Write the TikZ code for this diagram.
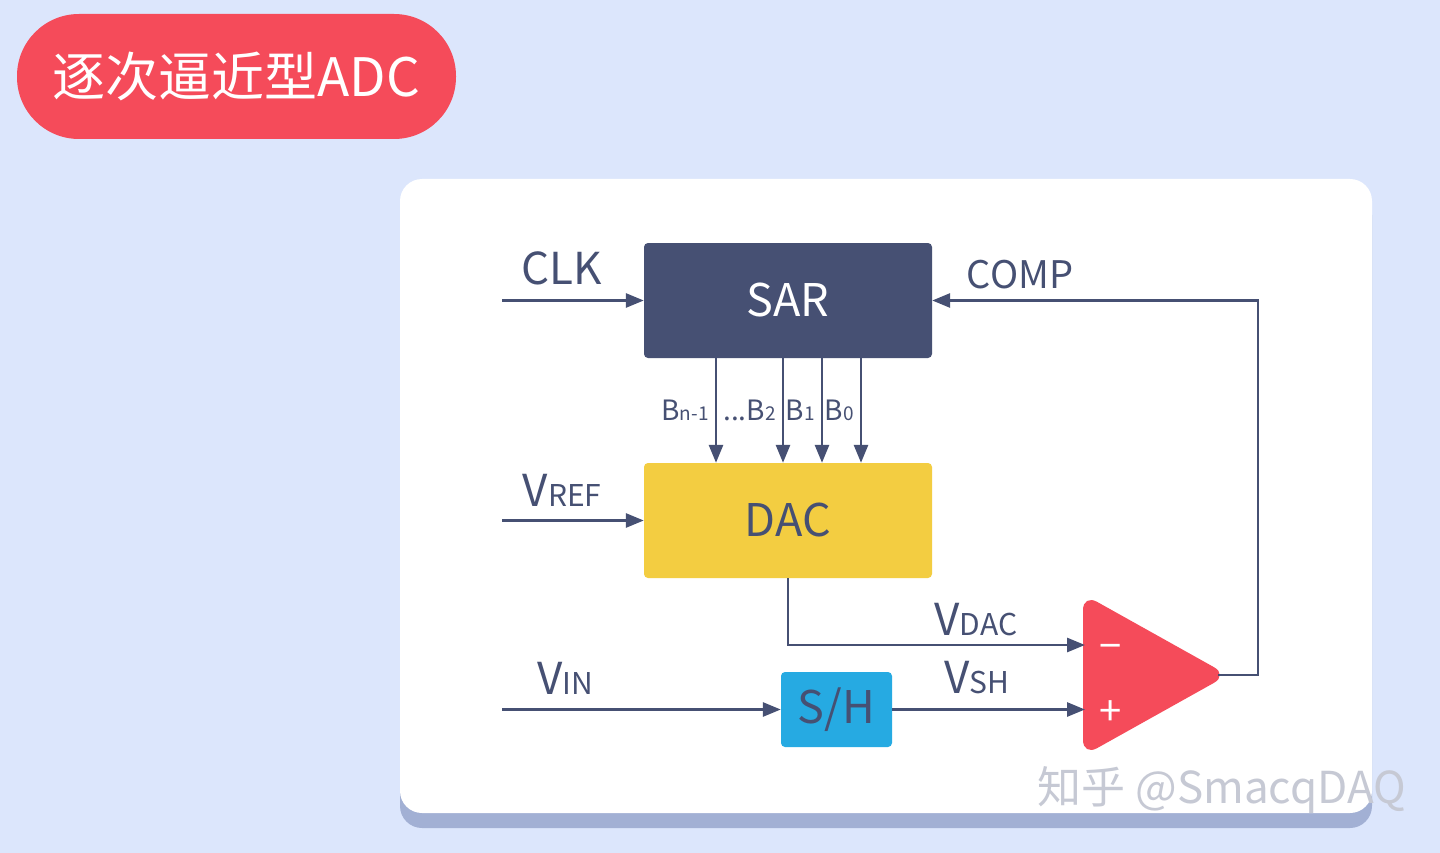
\documentclass[tikz,border=0pt]{standalone}
\usepackage{fontspec}
\setmainfont{Noto Sans CJK SC}
\usetikzlibrary{arrows.meta, positioning}

\definecolor{bgblue}{RGB}{220,230,252}
\definecolor{shadeblue}{RGB}{162,176,212}
\definecolor{navy}{RGB}{70,80,115}
\definecolor{alertred}{RGB}{245,75,90}
\definecolor{dacyellow}{RGB}{243,205,65}
\definecolor{shblue}{RGB}{38,170,226}
\definecolor{wmgray}{RGB}{198,201,212}

% big letter with smaller trailing part (V_REF, B_n-1 ...)
\newcommand{\sig}[2]{#1{\fontsize{30}{30}\selectfont #2}}
\newcommand{\bitsub}[1]{{\fontsize{19}{19}\selectfont #1}}

\begin{document}
\begin{tikzpicture}[x=1pt, y=-1pt,
        every node/.style={inner sep=0pt},
        block/.style={rounded corners=4pt, minimum width=288pt, minimum height=115pt,
                      font=\fontsize{45}{45}\selectfont},
        wire/.style={-{Triangle[length=18pt,width=14pt]}, line width=2.8pt, draw=navy},
        lbl/.style={text=navy, font=\fontsize{44}{44}\selectfont},
        bitlbl/.style={text=navy, font=\fontsize{28}{28}\selectfont}
    ]

    % background and panel
    \fill[bgblue] (0,0) rectangle (1440,853);
    \fill[shadeblue, rounded corners=22pt] (400,193) rectangle (1372,828);
    \fill[white, rounded corners=22pt] (400,179) rectangle (1372,813);

    % title
    \node[fill=alertred, rounded corners=62pt, minimum width=439pt, minimum height=125pt,
          text=white, font=\fontsize{53}{53}\selectfont] (title) at (236.5,76.5) {逐次逼近型ADC};

    % blocks
    \node[block, fill=navy, text=white] (SAR) at (788,300.5) {SAR};
    \node[block, fill=dacyellow, text=navy] (DAC) at (788,520.5) {DAC};
    \node[block, fill=shblue, text=navy, minimum width=111pt, minimum height=75pt] (SH) at (836.5,709.5) {S/H};

    % comparator
    \fill[alertred, rounded corners=16pt] (1083,594) -- (1228,675) -- (1083,756) -- cycle;
    \coordinate (cmpminus) at (1085,645);
    \coordinate (cmpplus) at (1085,709.5);
    \coordinate (cmpout) at (1218,675);
    \node[text=white, font=\fontsize{40}{40}\selectfont] (minus) at (1111,652) {−};
    \node[text=white, font=\fontsize{40}{40}\selectfont] (plus) at (1111,713) {+};

    % inputs
    \coordinate (clkin) at (502,300.5);
    \coordinate (vrefin) at (502,520.5);
    \coordinate (vinin) at (502,709.5);

    \draw[wire] (clkin) -- (SAR.west);
    \draw[wire] (vrefin) -- (DAC.west);
    \draw[wire] (vinin) -- (SH.west);
    \draw[wire] (SH.east) -- (cmpplus);
    \draw[wire] (DAC.south) |- (cmpminus);
    \draw[wire] (cmpout) -- ++(40,0) |- (SAR.east);

    % bit lines
    \foreach \dx/\bit in {-72/{B\bitsub{n-1}}, -5/{...B\bitsub{2}}, 34/{B\bitsub{1}}, 73/{B\bitsub{0}}}
        \draw[wire] ([xshift=\dx pt]SAR.south) -- ([xshift=\dx pt]DAC.north)
            node[midway, left=6pt, bitlbl] {\bit};

    % labels
    \node[lbl] (clklbl) at (562,268) {CLK};
    \node[lbl, font=\fontsize{38}{38}\selectfont] (complbl) at (1020,275) {COMP};
    \node[lbl] (vreflbl) at (562,490) {\sig{V}{REF}};
    \node[lbl] (vdaclbl) at (976,620) {\sig{V}{DAC}};
    \node[lbl] (vinlbl) at (565,678) {\sig{V}{IN}};
    \node[lbl] (vshlbl) at (977,678) {\sig{V}{SH}};

    % watermark
    \node[text=wmgray, font=\fontsize{44}{44}\selectfont] (wmark) at (1222,790) {知乎 @SmacqDAQ};

\end{tikzpicture}
\end{document}
